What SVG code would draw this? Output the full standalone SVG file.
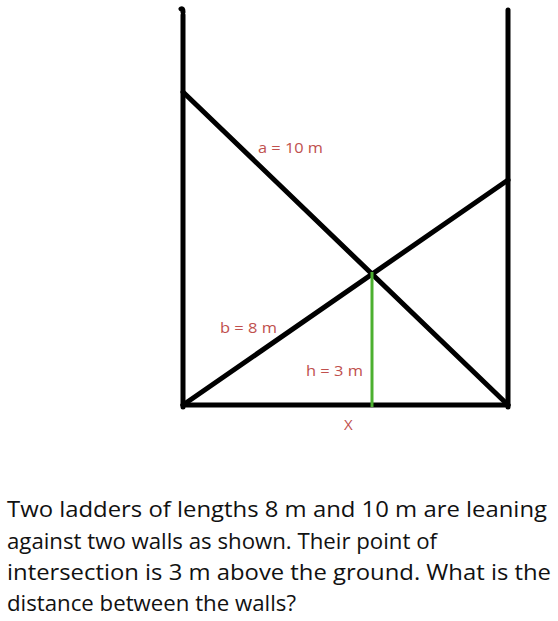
<svg xmlns="http://www.w3.org/2000/svg" width="558" height="621" viewBox="0 0 558 621">
<style>
.ln{stroke:#000;stroke-width:5;stroke-linecap:round;fill:none}
.lbl{font-family:"Open Sans","Liberation Sans",sans-serif;font-size:15px;fill:#c0504d}
.q{font-family:"Open Sans","Liberation Sans",sans-serif;font-size:21px;fill:#111}
</style>
<rect width="558" height="621" fill="#fff"/>
<g id="walls">
<path class="ln" d="M183,15 V407"/>
<path class="ln" d="M183,12 q0,-4 -2,-3" stroke-width="3"/>
<path class="ln" d="M508,10 V407"/>
</g>
<g id="ground"><path class="ln" d="M183,405 H508"/></g>
<g id="connectors">
<path class="ln" d="M183,92 L508,405"/>
<path class="ln" d="M183,405 L508,180"/>
<path d="M372,272 V407" stroke="#4cb030" stroke-width="3"/>
</g>
<g id="labels">
<text class="lbl" x="258" y="153" textLength="65" lengthAdjust="spacingAndGlyphs">a = 10 m</text>
<text class="lbl" x="220" y="333" textLength="57" lengthAdjust="spacingAndGlyphs">b = 8 m</text>
<text class="lbl" x="306" y="376" textLength="57" lengthAdjust="spacingAndGlyphs">h = 3 m</text>
<text class="lbl" x="344" y="430">X</text>
</g>
<g id="question">
<text class="q" x="7" y="517" textLength="540" lengthAdjust="spacingAndGlyphs">Two ladders of lengths 8 m and 10 m are leaning</text>
<text class="q" x="7" y="549" textLength="430" lengthAdjust="spacingAndGlyphs">against two walls as shown. Their point of</text>
<text class="q" x="7" y="580" textLength="544" lengthAdjust="spacingAndGlyphs">intersection is 3 m above the ground. What is the</text>
<text class="q" x="7" y="611" textLength="289" lengthAdjust="spacingAndGlyphs">distance between the walls?</text>
</g>
</svg>
